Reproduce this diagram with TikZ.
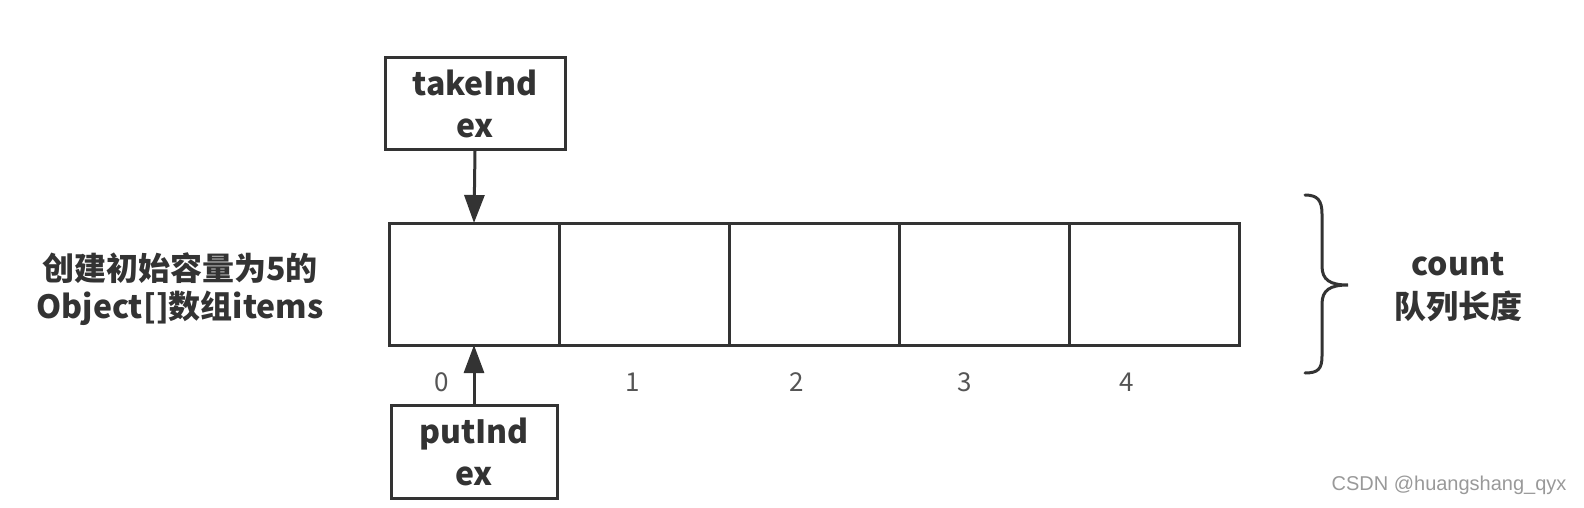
\documentclass[tikz,border=0pt]{standalone}
\usepackage{fontspec}
\setmainfont{Noto Sans CJK SC}
\newfontfamily\wmfont{Liberation Sans}
\usetikzlibrary{arrows.meta}
\definecolor{ink}{HTML}{333333}
\definecolor{idx}{HTML}{555555}
\definecolor{wm}{HTML}{999999}
\begin{document}
\begin{tikzpicture}[x=1pt,y=-1pt,
  line width=3pt, draw=ink,
  txt/.style={text=ink, font=\bfseries\fontsize{32}{42}\selectfont, align=center, inner sep=0pt},
  ptrbox/.style={draw=ink, line width=3pt, txt, inner sep=0pt},
  cell/.style={draw=ink, line width=3pt, minimum width=170pt, minimum height=122pt, inner sep=0pt, outer sep=0pt},
  idxlbl/.style={text=idx, font=\fontsize{26}{30}\selectfont, inner sep=0pt},
  ptr/.style={draw=ink, line width=3pt, -{Triangle[width=20pt,length=28pt]}}
]
\useasboundingbox (0,0) rectangle (1584,508);
% array cells
\node[cell] (c0) at (474,284) {};
\node[cell] (c1) at (644,284) {};
\node[cell] (c2) at (814,284) {};
\node[cell] (c3) at (984,284) {};
\node[cell] (c4) at (1154,284) {};
% index labels
\node[idxlbl] (i0) at (442,382) {0};
\node[idxlbl] (i1) at (633,382) {1};
\node[idxlbl] (i2) at (797,382) {2};
\node[idxlbl] (i3) at (965,382) {3};
\node[idxlbl] (i4) at (1127,382) {4};
% pointer boxes
\node[ptrbox, minimum width=180pt, minimum height=91pt] (take) at (475,103.5) {takeInd\\ex};
\node[ptrbox, minimum width=166pt, minimum height=93pt] (put) at (474,451.5) {putInd\\ex};
\draw[ptr] (take.south) -- (c0.north);
\draw[ptr] (put.north) -- (c0.south);
% left description
\node[txt, font=\bfseries\fontsize{32}{38}\selectfont] (desc) at (180,289) {创建初始容量为5的\\Object[]数组items};
% brace
\coordinate (b1) at (1305,195);
\coordinate (bt) at (1348,285);
\coordinate (b2) at (1305,373);
\draw[draw=ink, line width=3pt, line cap=round]
  (b1) .. controls (1318,195) and (1322,201) .. (1322,214)
  -- (1322,266) .. controls (1322,280) and (1330,285) .. (bt)
  .. controls (1330,285) and (1322,290) .. (1322,304)
  -- (1322,356) .. controls (1322,369) and (1318,373) .. (b2);
% count label
\node[txt, font=\bfseries\fontsize{32}{43}\selectfont] (count) at (1458,287) {count\\队列长度};
% watermark
\node[anchor=east, text=wm, font=\wmfont\fontsize{20}{24}\selectfont, inner sep=0pt] (mark) at (1568,485) {CSDN @huangshang\_qyx};
\end{tikzpicture}
\end{document}
